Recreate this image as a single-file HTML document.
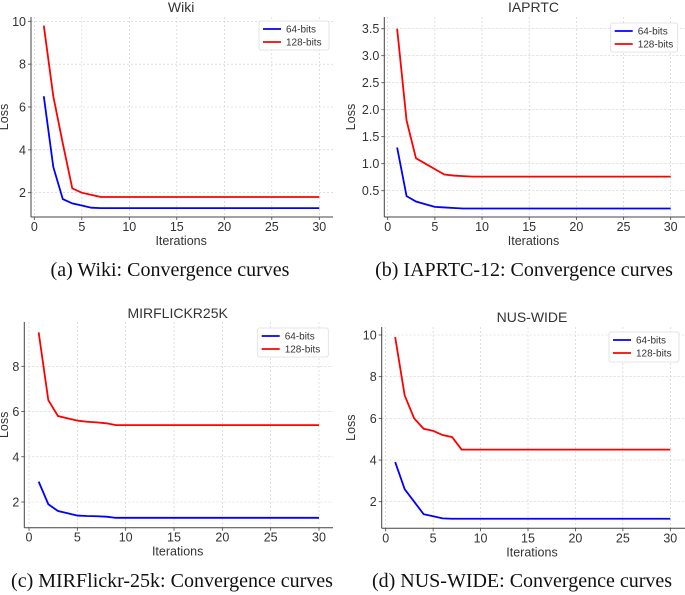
<!DOCTYPE html>
<html><head><meta charset="utf-8"><style>
body{margin:0;background:#fff;width:685px;height:595px;overflow:hidden;position:relative;font-family:"Liberation Sans",sans-serif}
svg{position:absolute;left:0;top:0}
.cap{position:absolute;font-family:"Liberation Serif",serif;font-size:20px;color:#111;white-space:nowrap;transform:translateX(-50%)}
</style></head><body>
<svg id="chart" width="685" height="595" xmlns="http://www.w3.org/2000/svg"></svg>
<div class="cap" style="left:170px;top:259px">(a) Wiki: Convergence curves</div>
<div class="cap" style="left:524px;top:259px">(b) IAPRTC-12: Convergence curves</div>
<div class="cap" style="left:172px;top:570px">(c) MIRFlickr-25k: Convergence curves</div>
<div class="cap" style="left:522px;top:570px">(d) NUS-WIDE: Convergence curves</div>
<script>
const iterations=[1,2,3,4,5,6,7,8,9,10,11,12,13,14,15,16,17,18,19,20,21,22,23,24,25,26,27,28,29,30];
function tail(arr,v){const a=arr.slice();while(a.length<30)a.push(v);return a;}
const wiki64=tail([6.5,3.2,1.7,1.5,1.4,1.3,1.28],1.28);
const wiki128=tail([9.8,6.5,4.3,2.2,2.0,1.9,1.8],1.8);
const iap64=tail([1.3,0.4,0.3,0.25,0.2,0.19,0.18,0.17],0.17);
const iap128=tail([3.5,1.8,1.1,1.0,0.9,0.8,0.78,0.77,0.76],0.76);
const mir64=tail([2.9,1.9,1.6,1.5,1.4,1.38,1.37,1.35,1.3],1.3);
const mir128=tail([9.5,6.5,5.8,5.7,5.6,5.55,5.52,5.48,5.4],5.4);
const nus64=tail([3.9,2.6,2.0,1.4,1.3,1.2,1.18],1.18);
const nus128=tail([9.9,7.1,6.0,5.5,5.4,5.2,5.1,4.5],4.5);
const xTicks=[0,5,10,15,20,25,30];
const panels=[
 {name:'wiki',title:'Wiki',s64:wiki64,s128:wiki128,yt:[2,4,6,8,10],yl:['2','4','6','8','10'],
  L:31,B:217,T:17,R:333,x0:34.3,x30:319.3,ya:2,yaP:192.7,yb:10,ybP:21.3,titleY:12,leg:[259,21,70,29],yx:8},
 {name:'iaprtc',title:'IAPRTC',s64:iap64,s128:iap128,yt:[0.5,1,1.5,2,2.5,3,3.5],yl:['0.5','1.0','1.5','2.0','2.5','3.0','3.5'],
  L:384.3,B:217,T:17,R:685,x0:387.7,x30:670.7,ya:0.5,yaP:190.7,yb:3.5,ybP:28.7,titleY:12,leg:[610.7,23,67,29],yx:355},
 {name:'mirflickr',title:'MIRFLICKR25K',s64:mir64,s128:mir128,yt:[2,4,6,8],yl:['2','4','6','8'],
  L:24.3,B:527.7,T:322,R:333,x0:29,x30:319,ya:2,yaP:502,yb:8,ybP:366.3,titleY:318,leg:[257.7,328,70.6,29],yx:8},
 {name:'nuswide',title:'NUS-WIDE',s64:nus64,s128:nus128,yt:[2,4,6,8,10],yl:['2','4','6','8','10'],
  L:381.7,B:528.3,T:327,R:685,x0:385.7,x30:670.3,ya:2,yaP:501.7,yb:10,ybP:335,titleY:322,leg:[609,332,70,30],yx:355}
];
const svg=document.getElementById('chart');const NS='http://www.w3.org/2000/svg';
function mk(t,a,p){const e=document.createElementNS(NS,t);for(const k in a)e.setAttribute(k,a[k]);(p||svg).appendChild(e);return e;}
panels.forEach(p=>{
 const g=mk('g',{});
 
 
 const xs=v=>p.x0+(v)*(p.x30-p.x0)/30;
 const ys=v=>p.yaP+(v-p.ya)*(p.ybP-p.yaP)/(p.yb-p.ya);
 xTicks.forEach(t=>{
  const l=mk('line',{x1:xs(t),x2:xs(t),y1:p.T,y2:p.B,stroke:'#ccc','stroke-width':0.6,'stroke-dasharray':'2,2'},g);
  
  
  mk('line',{x1:xs(t),x2:xs(t),y1:p.B,y2:p.B+3,stroke:'#444','stroke-width':0.8},g);
  const tx=mk('text',{x:xs(t),y:p.B+14,'text-anchor':'middle','font-size':12.5,fill:'#333'},g);tx.textContent=t;
  
  
 });
 p.yt.forEach((t,i)=>{
  const l=mk('line',{x1:p.L,x2:p.R,y1:ys(t),y2:ys(t),stroke:'#ccc','stroke-width':0.6,'stroke-dasharray':'2,2'},g);
  
  
  mk('line',{x1:p.L-3,x2:p.L,y1:ys(t),y2:ys(t),stroke:'#444','stroke-width':0.8},g);
  const tx=mk('text',{x:p.L-5,y:ys(t)+4.5,'text-anchor':'end','font-size':12.5,fill:'#333'},g);tx.textContent=p.yl[i];
  
  
 });
 mk('line',{x1:p.L,x2:p.L,y1:p.T,y2:p.B,stroke:'#444','stroke-width':1},g);
 mk('line',{x1:p.L,x2:p.R,y1:p.B,y2:p.B,stroke:'#444','stroke-width':1},g);
 [[p.s64,'#0000ff','series-64-bits'],[p.s128,'#ff0000','series-128-bits']].forEach(([s,c,n])=>{
  const pl=mk('polyline',{points:s.map((v,i)=>xs(iterations[i])+','+ys(v)).join(' '),fill:'none',stroke:c,'stroke-width':1.8},g);
  
  
 });
 const cx=(p.L+Math.min(p.R,p.x30+12))/2;
 const tt=mk('text',{x:cx,y:p.titleY,'text-anchor':'middle','font-size':14,fill:'#333'},g);tt.textContent=p.title;
 
 
 const xl=mk('text',{x:cx,y:p.B+28,'text-anchor':'middle','font-size':12.5,fill:'#333'},g);xl.textContent='Iterations';
 
 
 const ymid=(p.T+p.B)/2;const yl=mk('text',{x:0,y:0,'text-anchor':'middle','font-size':12.5,fill:'#333',transform:`translate(${p.yx},${ymid}) rotate(-90)`},g);yl.textContent='Loss';
 
 
 const [lx,ly,lw,lh]=p.leg;
 const lg=mk('g',{},g);
 
 
 mk('rect',{x:lx,y:ly,width:lw,height:lh,fill:'#fff',stroke:'#ddd','stroke-width':0.8,rx:2},lg);
 [['64-bits','#0000ff'],['128-bits','#ff0000']].forEach(([t,c],i)=>{
  const yy=ly+8+i*13;
  mk('line',{x1:lx+4,x2:lx+22,y1:yy,y2:yy,stroke:c,'stroke-width':1.8},lg);
  const e=mk('text',{x:lx+27,y:yy+3.5,'font-size':10,fill:'#333'},lg);e.textContent=t;
  
  
 });
});
</script>
</body></html>
